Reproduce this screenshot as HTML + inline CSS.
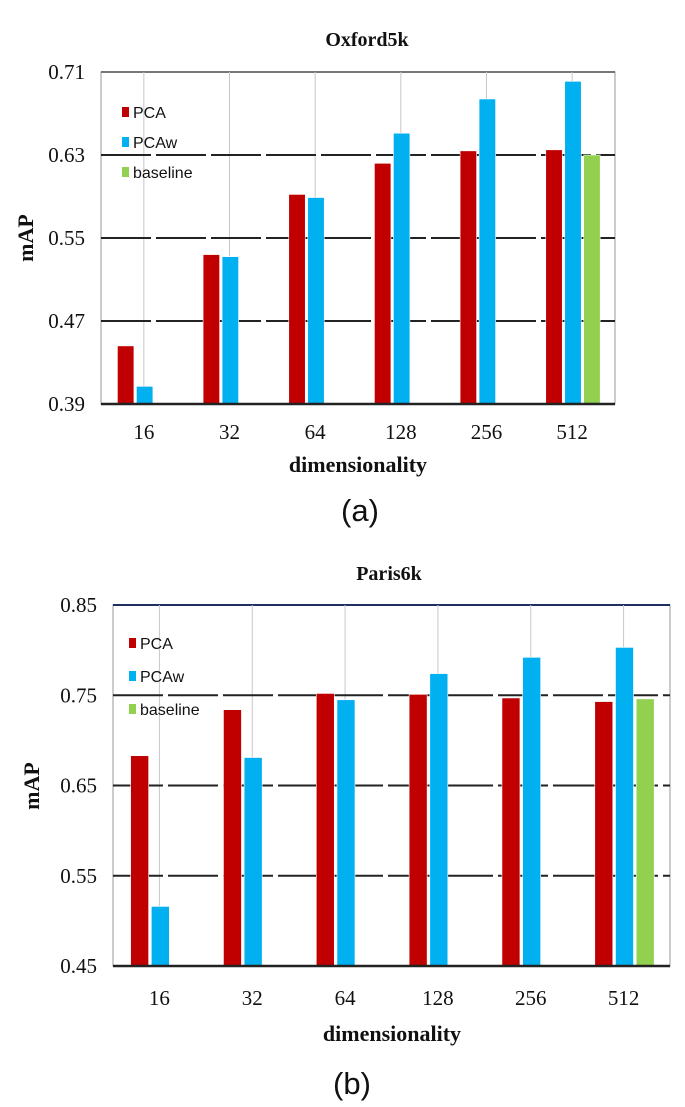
<!DOCTYPE html>
<html><head><meta charset="utf-8"><style>
body{margin:0;background:#fff;width:685px;height:1107px;overflow:hidden}
svg{display:block}
.tk{font-family:"Liberation Serif",serif;font-size:21px;fill:#111}
.lg{font-family:"Liberation Sans",sans-serif;font-size:16px;fill:#111}
.ti{font-family:"Liberation Serif",serif;font-size:20px;font-weight:bold;fill:#111}
.ax{font-family:"Liberation Serif",serif;font-size:22px;font-weight:bold;fill:#111}
.cap{font-family:"Liberation Sans",sans-serif;font-size:31px;fill:#111}
</style></head><body>
<svg id="s" width="685" height="1107"></svg>
<script>
const categories=["16","32","64","128","256","512"];
const seriesNames=["PCA","PCAw","baseline"];
const oxfordPCA=[0.446,0.534,0.592,0.622,0.634,0.635];
const oxfordPCAw=[0.407,0.532,0.589,0.651,0.684,0.701];
const oxfordBaseline=[null,null,null,null,null,0.630];
const oxfordTicks=[0.39,0.47,0.55,0.63,0.71];
const parisPCA=[0.683,0.734,0.752,0.751,0.747,0.743];
const parisPCAw=[0.516,0.681,0.745,0.774,0.792,0.803];
const parisBaseline=[null,null,null,null,null,0.746];
const parisTicks=[0.45,0.55,0.65,0.75,0.85];
const colors=["#c00000","#00b0f0","#92d050"];
const NS="http://www.w3.org/2000/svg";
const svg=document.getElementById('s');
function mk(t,a,p){const e=document.createElementNS(NS,t);for(const k in a)e.setAttribute(k,a[k]);(p||svg).appendChild(e);return e;}
function chart(o){
 const g=mk('g',{});
 
 
 const lo=o.ticks[0],hi=o.ticks[o.ticks.length-1];
 const y=v=>o.b-(v-lo)/(hi-lo)*(o.b-o.t);
 const step=(o.r-o.l)/categories.length;
 const xc=i=>o.l+step*(i+0.5);
 const series=[o.s1,o.s2,o.s3];
 const offs=[-o.w*1.6,-o.w*0.45,o.w*0.7];
 mk('rect',{x:o.l,y:o.t,width:o.r-o.l,height:o.b-o.t,fill:'none',stroke:'#999','stroke-width':1},g);
 mk('line',{x1:o.l,x2:o.r,y1:o.t,y2:o.t,stroke:o.topc,'stroke-width':2},g);
 categories.forEach((c,i)=>{
  const l=mk('line',{x1:xc(i),x2:xc(i),y1:o.t,y2:y(o.s2[i]),stroke:'#c8c8c8','stroke-width':1},g);
  
  
 });
 o.ticks.forEach((t,k)=>{
  if(k>0&&k<o.ticks.length-1){
   const gl=mk('line',{x1:o.l,x2:o.r,y1:y(t),y2:y(t),stroke:'#222','stroke-width':2,'stroke-dasharray':'50 5'},g);
   
   
  }
  const tx=mk('text',{x:o.l-16,y:y(t)+7,'text-anchor':'end',class:'tk'},g);
  tx.textContent=t.toFixed(2);
  
  
 });
 series.forEach((s,si)=>{s.forEach((v,i)=>{ if(v==null)return;
  const r=mk('rect',{x:xc(i)+offs[si],y:y(v),width:o.w,height:o.b-y(v),fill:colors[si],stroke:'#fff','stroke-width':0.6},g);
  
  
 });});
 mk('line',{x1:o.l,x2:o.r,y1:o.b,y2:o.b,stroke:'#222','stroke-width':2.5},g);
 categories.forEach((c,i)=>{
  const tx=mk('text',{x:xc(i),y:o.xl,'text-anchor':'middle',class:'tk'},g);
  tx.textContent=c;
  
  
 });
 seriesNames.forEach((n,k)=>{
  const ly=o.lgy+k*o.lgs;
  const sq=mk('rect',{x:o.lgx,y:ly-6,width:7,height:10,fill:colors[k]},g);
  
  
  const tx=mk('text',{x:o.lgx+11,y:ly+5,class:'lg'},g);
  tx.textContent=n;
  
  
 });
 const tt=mk('text',{x:o.tx,y:o.ty,'text-anchor':'middle',class:'ti'},g);tt.textContent=o.title;
 
 
 const xa=mk('text',{x:o.xax,y:o.xay,'text-anchor':'middle',class:'ax'},g);xa.textContent='dimensionality';
 
 
 const ya=mk('text',{x:0,y:0,'text-anchor':'middle',class:'ax',transform:`translate(${o.yax},${o.yay}) rotate(-90)`},g);ya.textContent='mAP';
 
 
 const cp=mk('text',{x:o.cx,y:o.cy,'text-anchor':'middle',class:'cap'},g);cp.textContent=o.cap;
 
 
}
chart({id:'oxford5k',title:'Oxford5k',cap:'(a)',l:101,r:615,t:72,b:404,w:16.5,ticks:oxfordTicks,s1:oxfordPCA,s2:oxfordPCAw,s3:oxfordBaseline,topc:'#777',
 xl:439,tx:367,ty:46,xax:358,xay:472,yax:33,yay:238,cx:360,cy:521,lgx:122,lgy:113,lgs:30});
chart({id:'paris6k',title:'Paris6k',cap:'(b)',l:113,r:670,t:605,b:966,w:18,ticks:parisTicks,s1:parisPCA,s2:parisPCAw,s3:parisBaseline,topc:'#1f2f5f',
 xl:1005,tx:389,ty:580,xax:392,xay:1041,yax:39,yay:786,cx:352,cy:1094,lgx:129,lgy:644,lgs:33});
</script>
</body></html>
